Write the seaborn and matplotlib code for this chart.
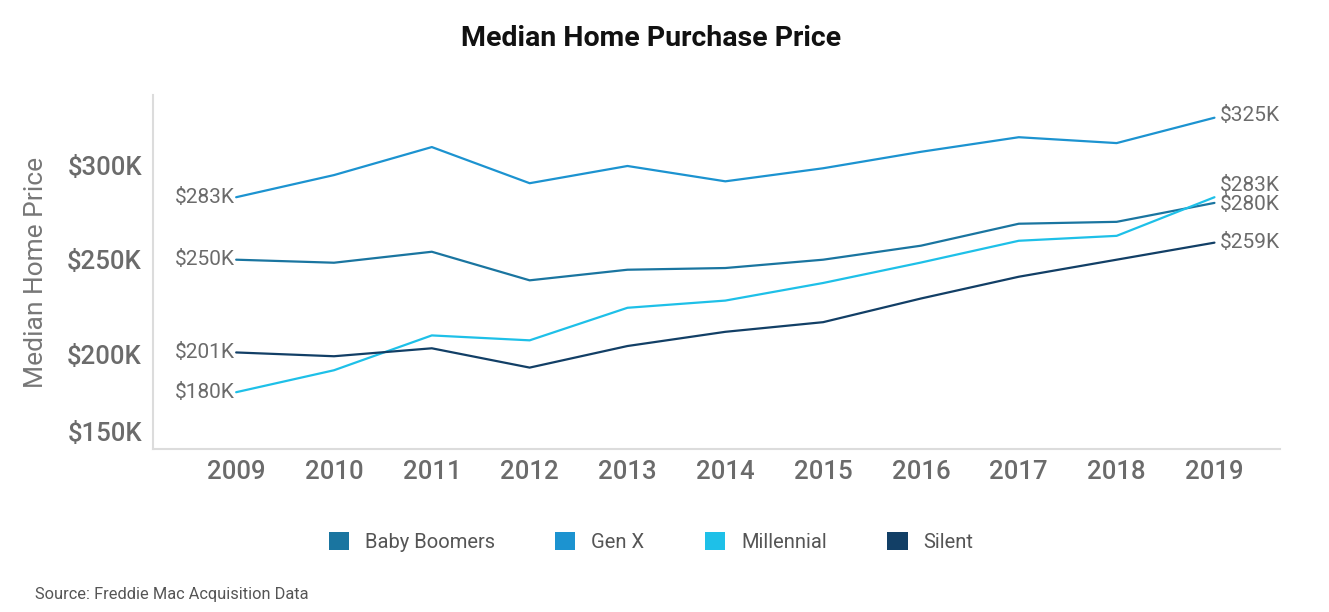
import matplotlib
matplotlib.use("Agg")
import matplotlib.pyplot as plt
import matplotlib.transforms as mtransforms
from matplotlib.patches import Patch
import seaborn as sns
import pandas as pd

years = [2009, 2010, 2011, 2012, 2013, 2014, 2015, 2016, 2017, 2018, 2019]
baby_boomers = [250, 248.4, 254.2, 239.1, 244.7, 245.6, 250, 257.4, 269, 270, 280]
gen_x = [283, 294.7, 309.5, 290.4, 299.5, 291.4, 298.3, 307, 314.7, 311.6, 325]
millennial = [180, 191.6, 210, 207.4, 224.6, 228.4, 237.7, 248.5, 260, 262.6, 283]
silent = [201, 199, 203.2, 193, 204.4, 211.9, 217, 229.5, 241, 250, 259]

series_names = ["Baby Boomers", "Gen X", "Millennial", "Silent"]
series_values = [baby_boomers, gen_x, millennial, silent]
colors = ["#1a75a0", "#1c93d0", "#1ec0e8", "#123f66"]

ytick_values = [150, 200, 250, 300]
ytick_labels = ["$150K", "$200K", "$250K", "$300K"]

start_labels = {"Gen X": "$283K", "Baby Boomers": "$250K", "Silent": "$201K", "Millennial": "$180K"}
end_labels = {"Gen X": "$325K", "Millennial": "$283K", "Baby Boomers": "$280K", "Silent": "$259K"}
end_offsets = {"Gen X": 1.5, "Millennial": 8.5, "Baby Boomers": -1.5, "Silent": 0}

rows = []
for name, vals in zip(series_names, series_values):
    for y, v in zip(years, vals):
        rows.append({"Year": y, "Price": v, "Generation": name})
df = pd.DataFrame(rows)

sns.set_theme(style="white")
plt.rcParams["font.family"] = ["Roboto", "DejaVu Sans"]

fig = plt.figure(figsize=(13.29, 6.12), dpi=100)
ax = fig.add_axes([153 / 1329, 1 - 449 / 612, (1280 - 153) / 1329, (449 - 95) / 612])

palette = dict(zip(series_names, colors))
sns.lineplot(data=df, x="Year", y="Price", hue="Generation", palette=palette,
             linewidth=1.6, legend=False, ax=ax)

ax.set_xlim(2008.15, 2019.67)
ax.set_ylim(150, 337)
ax.set_xticks(years)
ax.set_xticklabels([str(y) for y in years], fontsize=18.5, color="#6b6b6b", fontweight="medium")
ax.set_yticks(ytick_values)
ax.set_yticklabels(ytick_labels, fontsize=18.5, color="#6b6b6b", fontweight="medium")
ax.tick_params(axis="x", length=0, pad=8)
ax.tick_params(axis="y", length=0, pad=8)
ax.set_xlabel("")
ax.set_ylabel("")

for s in ["top", "right"]:
    ax.spines[s].set_visible(False)
for s in ["left", "bottom"]:
    ax.spines[s].set_color("#dcdcdc")
    ax.spines[s].set_linewidth(1.5)

# shift the $150K label up slightly as in reference
for lbl in ax.get_yticklabels():
    if lbl.get_text() == "$150K":
        lbl.set_transform(lbl.get_transform() + mtransforms.ScaledTranslation(0, 18 / 100, fig.dpi_scale_trans))

for name, vals in zip(series_names, series_values):
    ax.annotate(start_labels[name], xy=(years[0], vals[0]), xytext=(-1, 0),
                textcoords="offset points", ha="right", va="center",
                fontsize=15, color="#6b6b6b")
    ax.annotate(end_labels[name], xy=(years[-1], vals[-1]), xytext=(4, end_offsets[name]),
                textcoords="offset points", ha="left", va="center",
                fontsize=15, color="#6b6b6b", annotation_clip=False)

fig.text(651 / 1329, 1 - 38 / 612, "Median Home Purchase Price", ha="center", va="center",
         fontsize=20.5, fontweight="bold", color="#111111")
fig.text(36 / 1329, 1 - 272 / 612, "Median Home Price", ha="center", va="center",
         rotation=90, fontsize=19, color="#777777")
fig.text(35 / 1329, 1 - 595 / 612, "Source: Freddie Mac Acquisition Data", ha="left", va="center",
         fontsize=11.8, color="#555555")

handles = [Patch(facecolor=c, edgecolor="none", label=n) for n, c in zip(series_names, colors)]
leg = fig.legend(handles=handles, loc="center", bbox_to_anchor=(651 / 1329, 1 - 542 / 612),
                 ncol=4, frameon=False, fontsize=14.5, handlelength=1.0, handleheight=1.0,
                 handletextpad=0.8, columnspacing=3.0)
for t in leg.get_texts():
    t.set_color("#555555")

fig.savefig("out.png", dpi=100)
